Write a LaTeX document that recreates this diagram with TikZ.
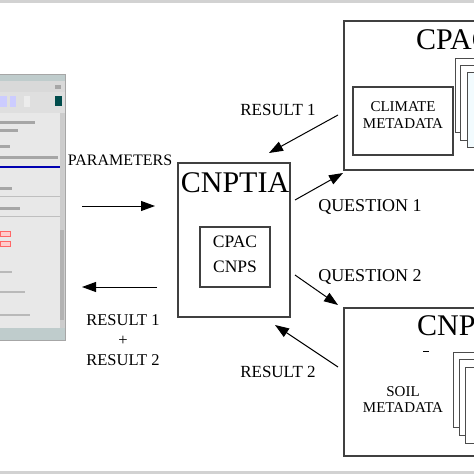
\documentclass[tikz,border=0pt]{standalone}
\usepackage{fontspec}
\setmainfont{Liberation Serif}
\usetikzlibrary{arrows.meta}
\tikzset{
  box/.style={draw=black!75, line width=1.2pt, fill=white, inner sep=0pt},
  page/.style={draw=black!70, line width=1pt, fill=white},
  big/.style={font=\fontsize{30}{32}\selectfont, inner sep=0pt},
  lbl/.style={font=\fontsize{16}{20}\selectfont, inner sep=0pt, align=center},
  arr/.style={-{Triangle[length=14pt,width=10pt]}, line width=1pt},
}
\begin{document}
\begin{tikzpicture}[x=1pt, y=-1pt]
\useasboundingbox (0,0) rectangle (474,474);
\clip (0,0) rectangle (474,474);
\fill[gray!35] (0,0) rectangle (474,3);
\fill[gray!35] (0,471) rectangle (474,474);

% screenshot of the web page
\fill[gray!38] (-2,74) rectangle (65,340);
\fill[teal!25!gray!40] (-2,74) rectangle (65,81);
\fill[gray!30] (-2,81) rectangle (65,92);
\fill[gray!70] (55,85) rectangle (61,89);
\fill[gray!25] (-2,92) rectangle (65,113);
\fill[blue!20] (0,96) rectangle (7,107);
\fill[blue!20] (10,96) rectangle (16,107);
\fill[gray!15] (24,96) rectangle (30,107);
\fill[teal!60!black] (55,96) rectangle (62,106);
\fill[gray!18] (-2,113) rectangle (60,328);
\fill[gray!40] (60,113) rectangle (64,328);
\fill[gray!60] (60,230) rectangle (64,320);
\fill[gray!70] (0,121) rectangle (35,124);
\fill[gray!70] (0,129) rectangle (18,132);
\fill[gray!70] (0,145) rectangle (10,148);
\fill[gray!70] (0,156) rectangle (58,159);
\draw[blue!70!black, line width=1.5pt] (0,167) -- (60,167);
\fill[gray!70] (0,187) rectangle (12,190);
\draw[gray!50] (0,196) -- (60,196);
\fill[gray!70] (0,207) rectangle (20,210);
\draw[gray!50] (0,216) -- (60,216);
\filldraw[fill=red!20, draw=red!60] (0,231) rectangle (10,236);
\filldraw[fill=red!20, draw=red!60] (0,241) rectangle (10,246);
\fill[gray!55] (0,271) rectangle (12,273);
\fill[gray!55] (0,291) rectangle (25,293);
\fill[gray!55] (0,314) rectangle (30,316);
\fill[teal!25!gray!40] (-2,328) rectangle (65,340);
\draw[gray!70] (-2,74) rectangle (65,340);

% CNPTIA
\node[box, minimum width=112, minimum height=154] (cnptia) at (234,240) {};
\node[big] (cnptiat) at (235,183) {CNPTIA};
\node[box, minimum width=70, minimum height=60] (inner) at (235,257) {};
\node[lbl, font=\fontsize{17.5}{25}\selectfont] (innert) at (235,254.5) {CPAC\\CNPS};

% CPAC
\node[box, minimum width=146, minimum height=149] (cpac) at (417,95.5) {};
\node[big, anchor=base west] (cpact) at (416,49.5) {CPAC};
\node[box, minimum width=100, minimum height=68] (climate) at (403,121) {};
\node[lbl, font=\fontsize{15}{17}\selectfont] (climatet) at (403,115.5) {CLIMATE\\METADATA};
\draw[page] (455,58) rectangle (490,132);
\draw[page] (460,65) rectangle (490,140);
\draw[page, fill=cyan!5] (467,72) rectangle (490,147);

% CNPS
\node[box, minimum width=146, minimum height=148] (cnps) at (417,382) {};
\node[big, anchor=base west] (cnpst) at (417,335) {CNPS};
\draw[line width=0.6pt] (423,351) -- (429,351);
\node[lbl, font=\fontsize{15}{16}\selectfont] (soilt) at (403,400) {SOIL\\METADATA};
\draw[page] (453,352) rectangle (490,427);
\draw[page] (459,359) rectangle (490,435);
\draw[page] (465,367) rectangle (490,443);

% labels
\node[lbl] (param) at (120,160) {PARAMETERS};
\node[lbl, font=\fontsize{16.5}{20}\selectfont] (res12) at (123,340) {RESULT 1\\+\\RESULT 2};
\node[lbl, font=\fontsize{17}{20}\selectfont] (res1) at (278,110) {RESULT 1};
\node[lbl, font=\fontsize{18}{20}\selectfont] (q1) at (370,207) {QUESTION 1};
\node[lbl, font=\fontsize{18}{20}\selectfont] (q2) at (370,277) {QUESTION 2};
\node[lbl, font=\fontsize{17}{20}\selectfont] (res2) at (278,372) {RESULT 2};

% arrows
\coordinate (pa) at (82,206);
\coordinate (pb) at (155,206);
\coordinate (ra) at (157,287);
\coordinate (rb) at (82,287);
\coordinate (r1a) at (338,115);
\coordinate (r1b) at (269,153);
\coordinate (q1a) at (295,200);
\coordinate (q1b) at (343,173);
\coordinate (q2a) at (295,275);
\coordinate (q2b) at (338,305);
\coordinate (r2a) at (338,367);
\coordinate (r2b) at (275,325);
\begin{scope}[arr]
\draw (pa) -- (pb);
\draw (ra) -- (rb);
\draw (r1a) -- (r1b);
\draw (q1a) -- (q1b);
\draw (q2a) -- (q2b);
\draw (r2a) -- (r2b);
\end{scope}
\end{tikzpicture}
\end{document}
